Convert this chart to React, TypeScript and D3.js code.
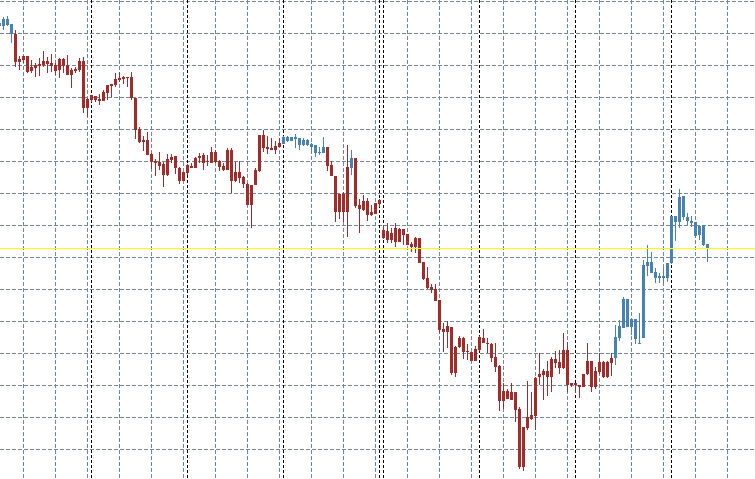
import React from "react";
import * as d3 from "d3";

// Hourly bars, oldest first (price units)
const opens = [
  111.74, 111.74, 111.81, 111.76, 111.66, 111.38, 111.40, 111.44, 111.29, 111.32,
  111.34, 111.35, 111.39, 111.37, 111.35, 111.30, 111.41, 111.35, 111.25, 111.29,
  111.30, 111.39, 110.92, 111.00, 111.04, 110.99, 110.99, 111.07, 111.14, 111.15,
  111.20, 111.21, 111.23, 111.23, 111.02, 110.71, 110.58, 110.60, 110.46, 110.39,
  110.38, 110.36, 110.25, 110.40, 110.44, 110.32, 110.19, 110.27, 110.34, 110.32,
  110.42, 110.45, 110.38, 110.37, 110.48, 110.39, 110.34, 110.30, 110.50, 110.19,
  110.28, 110.23, 110.16, 109.95, 110.15, 110.29, 110.65, 110.53, 110.50, 110.50,
  110.53, 110.56, 110.63, 110.59, 110.63, 110.62, 110.55, 110.60, 110.56, 110.55,
  110.47, 110.47, 110.53, 110.35, 110.24, 109.88, 110.06, 109.88, 110.32, 110.42,
  109.95, 109.90, 109.99, 109.85, 109.86, 109.96, 109.70, 109.60, 109.67, 109.58,
  109.71, 109.65, 109.66, 109.56, 109.53, 109.62, 109.38, 109.22, 109.13, 109.11,
  109.00, 108.71, 108.68, 108.73, 108.27, 108.53, 108.62, 108.48, 108.48, 108.39,
  108.50, 108.62, 108.57, 108.56, 108.43, 108.34, 107.99, 108.09, 108.00, 108.08,
  107.91, 107.33, 107.72, 107.81, 107.84, 108.23, 108.25, 108.29, 108.23, 108.41,
  108.38, 108.32, 108.50, 108.15, 108.17, 108.15, 108.13, 108.26, 108.39, 108.13,
  108.28, 108.38, 108.23, 108.37, 108.42, 108.62, 108.72, 109.01, 108.73, 108.81,
  108.56, 108.62, 109.34, 109.38, 109.28, 109.22, 109.24, 109.22, 109.37, 109.84,
  109.78, 110.04, 109.83, 109.79, 109.78, 109.65, 109.75, 109.56,
];
const highs = [
  111.80, 111.83, 111.84, 111.76, 111.70, 111.44, 111.44, 111.44, 111.40, 111.37,
  111.42, 111.49, 111.43, 111.46, 111.37, 111.42, 111.42, 111.45, 111.32, 111.33,
  111.42, 111.43, 111.02, 111.05, 111.04, 111.06, 111.10, 111.15, 111.16, 111.27,
  111.28, 111.24, 111.23, 111.28, 111.02, 110.73, 110.64, 110.68, 110.47, 110.41,
  110.48, 110.38, 110.46, 110.46, 110.44, 110.33, 110.28, 110.36, 110.37, 110.43,
  110.47, 110.47, 110.45, 110.53, 110.50, 110.40, 110.37, 110.52, 110.52, 110.38,
  110.39, 110.24, 110.17, 110.15, 110.32, 110.65, 110.70, 110.64, 110.62, 110.59,
  110.62, 110.64, 110.64, 110.63, 110.66, 110.62, 110.62, 110.61, 110.57, 110.55,
  110.53, 110.63, 110.53, 110.39, 110.24, 110.06, 110.08, 110.55, 110.50, 110.42,
  110.01, 110.05, 110.02, 109.95, 109.97, 110.01, 109.75, 109.77, 109.72, 109.77,
  109.72, 109.71, 109.66, 109.58, 109.63, 109.62, 109.38, 109.33, 109.16, 109.16,
  109.00, 108.77, 108.79, 108.73, 108.54, 108.64, 108.63, 108.56, 108.48, 108.54,
  108.64, 108.71, 108.62, 108.57, 108.57, 108.35, 108.17, 108.11, 108.17, 108.08,
  107.93, 107.73, 108.19, 108.08, 108.23, 108.47, 108.31, 108.39, 108.43, 108.49,
  108.50, 108.67, 108.58, 108.17, 108.17, 108.15, 108.26, 108.57, 108.39, 108.33,
  108.47, 108.39, 108.39, 108.47, 108.75, 108.80, 109.03, 109.01, 108.81, 108.81,
  108.87, 109.40, 109.55, 109.48, 109.32, 109.27, 109.32, 109.37, 109.84, 109.84,
  110.11, 110.04, 109.87, 109.84, 109.78, 109.74, 109.75, 109.56,
];
const lows = [
  111.72, 111.70, 111.74, 111.57, 111.33, 111.30, 111.37, 111.27, 111.27, 111.23,
  111.24, 111.33, 111.27, 111.28, 111.25, 111.22, 111.27, 111.25, 111.12, 111.27,
  111.28, 110.87, 110.83, 110.98, 110.98, 110.95, 110.99, 111.00, 111.03, 111.13,
  111.18, 111.16, 111.13, 111.00, 110.61, 110.57, 110.49, 110.45, 110.31, 110.24,
  110.30, 110.13, 110.24, 110.37, 110.26, 110.16, 110.19, 110.25, 110.32, 110.32,
  110.37, 110.30, 110.34, 110.37, 110.37, 110.29, 110.29, 110.30, 110.07, 110.18,
  110.17, 110.12, 109.95, 109.72, 110.15, 110.28, 110.48, 110.46, 110.50, 110.46,
  110.53, 110.56, 110.58, 110.59, 110.52, 110.50, 110.54, 110.54, 110.49, 110.43,
  110.45, 110.47, 110.29, 110.24, 109.78, 109.81, 109.78, 109.63, 110.25, 109.92,
  109.67, 109.89, 109.79, 109.84, 109.86, 109.93, 109.61, 109.57, 109.57, 109.53,
  109.58, 109.55, 109.55, 109.48, 109.47, 109.37, 109.20, 109.11, 109.07, 108.99,
  108.67, 108.48, 108.52, 108.25, 108.23, 108.52, 108.41, 108.40, 108.39, 108.39,
  108.49, 108.57, 108.47, 108.38, 108.28, 107.89, 107.91, 108.01, 108.00, 107.78,
  107.31, 107.29, 107.70, 107.80, 107.70, 108.15, 108.00, 108.04, 108.08, 108.32,
  108.26, 108.31, 108.08, 108.13, 108.07, 108.02, 108.13, 108.25, 108.08, 108.11,
  108.26, 108.22, 108.22, 108.24, 108.35, 108.59, 108.72, 108.73, 108.65, 108.56,
  108.56, 108.62, 109.24, 109.27, 109.17, 109.17, 109.16, 109.18, 109.36, 109.59,
  109.72, 109.80, 109.75, 109.73, 109.62, 109.60, 109.54, 109.38,
];
const closes = [
  111.77, 111.81, 111.75, 111.66, 111.38, 111.41, 111.44, 111.28, 111.33, 111.35,
  111.36, 111.39, 111.36, 111.34, 111.29, 111.41, 111.34, 111.25, 111.30, 111.31,
  111.39, 110.92, 111.01, 111.05, 111.00, 111.01, 111.08, 111.15, 111.16, 111.21,
  111.22, 111.23, 111.22, 111.02, 110.70, 110.58, 110.60, 110.45, 110.38, 110.37,
  110.34, 110.25, 110.41, 110.43, 110.32, 110.19, 110.28, 110.35, 110.32, 110.42,
  110.44, 110.37, 110.39, 110.48, 110.38, 110.33, 110.30, 110.50, 110.19, 110.28,
  110.22, 110.16, 109.95, 110.15, 110.30, 110.65, 110.52, 110.51, 110.52, 110.54,
  110.57, 110.63, 110.59, 110.63, 110.61, 110.55, 110.60, 110.55, 110.53, 110.47,
  110.48, 110.53, 110.34, 110.24, 109.88, 110.06, 109.88, 110.33, 110.42, 109.94,
  109.91, 109.99, 109.85, 109.88, 109.97, 110.00, 109.62, 109.69, 109.60, 109.72,
  109.58, 109.71, 109.55, 109.53, 109.62, 109.37, 109.21, 109.12, 109.10, 108.99,
  108.70, 108.68, 108.74, 108.27, 108.53, 108.62, 108.48, 108.49, 108.39, 108.51,
  108.63, 108.57, 108.56, 108.42, 108.33, 107.99, 108.09, 108.01, 108.08, 107.90,
  107.33, 107.73, 107.83, 107.85, 108.22, 108.26, 108.29, 108.23, 108.41, 108.37,
  108.32, 108.50, 108.15, 108.17, 108.15, 108.13, 108.26, 108.39, 108.13, 108.29,
  108.38, 108.23, 108.38, 108.42, 108.63, 108.74, 109.01, 108.73, 108.81, 108.61,
  108.57, 109.35, 109.38, 109.27, 109.22, 109.24, 109.22, 109.37, 109.84, 109.78,
  110.03, 109.83, 109.79, 109.77, 109.64, 109.74, 109.55, 109.52,
];
// bar-index runs drawn in the "up-trend" colour
const blueRuns = [
  [0, 3],
  [71, 81],
  [88, 88],
  [154, 177],
];
// bars on which a new day starts (period separators)
const daySeparators = [23, 47, 71, 95, 96, 120, 144, 168];

const W = 755;
const H = 479;
const RED = "#a52a2a";
const BLUE = "#4682b4";
const GRID = "#778899";

export default function App() {
  const n = opens.length;
  const x = d3.scaleLinear().domain([0, n - 1]).range([-1, -1 + 4 * (n - 1)]);
  const y = d3.scaleLinear().domain([112, 107.21]).range([0, H]);
  const py = (v: number) => Math.round(y(v));

  const isBlue = (i: number) => blueRuns.some(([a, b]) => i >= a && i <= b);

  const hGrid = d3.range(1, H, 32);
  const vGrid = d3.range(6, n + 8, 8).map((i) => x(i)).filter((v) => v < W);

  const lastClose = closes[n - 1];

  return (
    <div style={{ position: "absolute", left: 0, top: 0 }}>
      <svg width={W} height={H} style={{ display: "block", background: "#fff" }} shapeRendering="crispEdges">
        <rect x={0} y={0} width={W} height={H} fill="#fff" />
        {hGrid.map((gy) => (
          <line key={"h" + gy} x1={0} x2={W} y1={gy + 0.5} y2={gy + 0.5} stroke={GRID} strokeWidth={1} strokeDasharray="4,2" />
        ))}
        {vGrid.map((gx) => (
          <line key={"v" + gx} x1={gx + 0.5} x2={gx + 0.5} y1={0} y2={H} stroke={GRID} strokeWidth={1} strokeDasharray="4,2" />
        ))}
        {daySeparators.map((i) => (
          <line key={"s" + i} x1={x(i) + 0.5} x2={x(i) + 0.5} y1={0} y2={H} stroke="#000" strokeWidth={1} strokeDasharray="3,2" />
        ))}
        {opens.map((o, i) => {
          const c = closes[i];
          const cx = Math.round(x(i));
          const col = isBlue(i) ? BLUE : RED;
          const top = py(Math.max(o, c));
          const bot = py(Math.min(o, c));
          const hy = py(highs[i]);
          const ly = py(lows[i]);
          return (
            <g key={i} fill={col}>
              <rect x={cx} y={hy} width={1} height={Math.max(1, ly - hy)} />
              <rect x={cx - 1} y={top} width={3} height={Math.max(1, bot - top)} />
            </g>
          );
        })}
        <line x1={0} x2={W} y1={py(lastClose) + 0.5} y2={py(lastClose) + 0.5} stroke="#ffff00" strokeWidth={1} />
      </svg>
    </div>
  );
}
